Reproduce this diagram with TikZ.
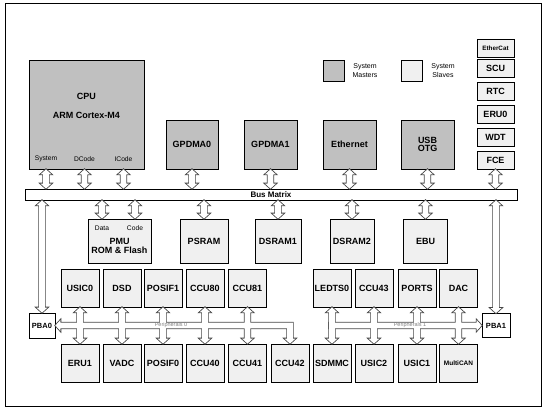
\documentclass[tikz,border=0pt]{standalone}
\usepackage{fontspec}
\setmainfont{Liberation Sans}
\usetikzlibrary{calc}
\definecolor{mastergray}{RGB}{192,192,192}
\definecolor{slavegray}{RGB}{240,240,240}
\definecolor{arrgray}{RGB}{70,70,70}
\def\arhw{5.5pt}
\def\arsw{2.8pt}
\def\arhl{5pt}
\tikzset{
  box/.style={draw=black, line width=0.8pt, inner sep=0pt, align=center,
    font=\bfseries\fontsize{9}{9.5}\selectfont},
  master/.style={box, fill=mastergray},
  slave/.style={box, fill=slavegray},
  plain/.style={box, fill=white},
  perbox/.style={slave, minimum width=38pt, minimum height=38pt},
  sidebox/.style={slave, minimum width=37pt, minimum height=18pt},
  smalltxt/.style={inner sep=0pt, font=\fontsize{6.7}{7}\selectfont},
  arrout/.style={draw=arrgray, line width=1.7pt, line join=miter},
  arrfill/.style={fill=white},
}
% double-headed vertical block arrow from #2 (top) to #3 (bottom)
\newcommand\varr[3]{%
  \path[#1] let \p1=#2, \p2=#3 in
   (\x1,\y1) -- (\x1+\arhw,\y1-\arhl) -- (\x1+\arsw,\y1-\arhl) -- (\x1+\arsw,\y2+\arhl)
   -- (\x1+\arhw,\y2+\arhl) -- (\x1,\y2) -- (\x1-\arhw,\y2+\arhl) -- (\x1-\arsw,\y2+\arhl)
   -- (\x1-\arsw,\y1-\arhl) -- (\x1-\arhw,\y1-\arhl) -- cycle;}
\newcommand\allarrows[1]{%
  \varr{#1}{(cpu.south -| sys)}{(bus.north -| sys)}
  \varr{#1}{(cpu.south -| dcode)}{(bus.north -| dcode)}
  \varr{#1}{(cpu.south -| icode)}{(bus.north -| icode)}
  \varr{#1}{(gpdma0.south)}{(bus.north -| gpdma0.south)}
  \varr{#1}{(gpdma1.south)}{(bus.north -| gpdma1.south)}
  \varr{#1}{(eth.south)}{(bus.north -| eth.south)}
  \varr{#1}{(usb.south)}{(bus.north -| usb.south)}
  \varr{#1}{(fce.south)}{(bus.north -| fce.south)}
  \varr{#1}{(bus.south -| data)}{(pmu.north -| data)}
  \varr{#1}{(bus.south -| code)}{(pmu.north -| code)}
  \varr{#1}{(bus.south -| psram.north)}{(psram.north)}
  \varr{#1}{(bus.south -| dsram1.north)}{(dsram1.north)}
  \varr{#1}{(bus.south -| dsram2.north)}{(dsram2.north)}
  \varr{#1}{(bus.south -| ebu.north)}{(ebu.north)}
  \varr{#1}{(bus.south -| pba0.north)}{(pba0.north)}
  \varr{#1}{(bus.south -| pba1.north)}{(pba1.north)}
  \varr{#1}{(usic0.south)}{(eru1.north)}
  \varr{#1}{(dsd.south)}{(vadc.north)}
  \varr{#1}{(posif1.south)}{(posif0.north)}
  \varr{#1}{(ccu80.south)}{(ccu40.north)}
  \varr{#1}{(ccu81.south)}{(ccu41.north)}
  \varr{#1}{(ledts0.south)}{(sdmmc.north)}
  \varr{#1}{(ccu43.south)}{(usic2.north)}
  \varr{#1}{(ports.south)}{(usic1.north)}
  \varr{#1}{(dac.south)}{(multican.north)}
  % Peripherals 0 bus: PBA0 <-> CCU42
  \path[#1] let \p1=(pba0.east), \p2=(ccu42.north) in
   (\x1,\y1) -- (\x1+\arhl,\y1+\arhw) -- (\x1+\arhl,\y1+\arsw) -- (\x2+\arsw,\y1+\arsw)
   -- (\x2+\arsw,\y2+\arhl) -- (\x2+\arhw,\y2+\arhl) -- (\x2,\y2) -- (\x2-\arhw,\y2+\arhl)
   -- (\x2-\arsw,\y2+\arhl) -- (\x2-\arsw,\y1-\arsw) -- (\x1+\arhl,\y1-\arsw)
   -- (\x1+\arhl,\y1-\arhw) -- cycle;
  % Peripherals 1 bus: -> PBA1
  \path[#1] let \p1=(ledts0.south |- pba1.west), \p2=(pba1.west) in
   (\x1-\arsw,\y1+\arsw) -- (\x2-\arhl,\y1+\arsw) -- (\x2-\arhl,\y1+\arhw) -- (\x2,\y1)
   -- (\x2-\arhl,\y1-\arhw) -- (\x2-\arhl,\y1-\arsw) -- (\x1-\arsw,\y1-\arsw) -- cycle;
}
\begin{document}
\begin{tikzpicture}[x=1pt, y=-1pt]
\useasboundingbox (0,0) rectangle (550,411);
\node[draw=black, line width=0.9pt, minimum width=536pt, minimum height=403pt, inner sep=0pt] (frame) at (273,204.5) {};

% CPU and masters
\node[master, minimum width=115pt, minimum height=109pt] (cpu) at (86.5,114.5) {};
\node[inner sep=0pt, font=\bfseries\fontsize{9}{9.5}\selectfont] (cputxt) at (86.5,96) {CPU};
\node[inner sep=0pt, font=\bfseries\fontsize{9}{9.5}\selectfont] (armtxt) at (86.5,115) {ARM Cortex-M4};
\node[smalltxt] (sys) at (46,159) {System};
\node[smalltxt] (dcode) at (84.5,159) {DCode};
\node[smalltxt] (icode) at (123.5,159) {ICode};

\node[master, minimum width=52pt, minimum height=49pt] (gpdma0) at (192,144.5) {GPDMA0};
\node[master, minimum width=53pt, minimum height=49pt] (gpdma1) at (270.5,144.5) {GPDMA1};
\node[master, minimum width=53pt, minimum height=49pt] (eth) at (349.5,144.5) {Ethernet};
\node[master, minimum width=53pt, minimum height=49pt, font=\bfseries\fontsize{9}{8.5}\selectfont] (usb) at (427.5,144.5) {USB\\OTG};

% legend
\node[master, minimum width=21pt, minimum height=21pt] (legm) at (333.5,70.5) {};
\node[smalltxt, align=center, font=\fontsize{7}{8.5}\selectfont] (legmt) at (365,70.5) {System\\Masters};
\node[slave, minimum width=21pt, minimum height=21pt] (legs) at (411.5,70.5) {};
\node[smalltxt, align=center, font=\fontsize{7}{8.5}\selectfont] (legst) at (443,70.5) {System\\Slaves};

% side column
\node[sidebox, font=\bfseries\fontsize{6.3}{7}\selectfont] (ethercat) at (495.5,48) {EtherCat};
\node[sidebox] (scu) at (495.5,68.5) {SCU};
\node[sidebox] (rtc) at (495.5,91.5) {RTC};
\node[sidebox] (eru0) at (495.5,114) {ERU0};
\node[sidebox] (wdt) at (495.5,137) {WDT};
\node[sidebox] (fce) at (495.5,160) {FCE};

% bus matrix
\node[plain, minimum width=492pt, minimum height=11pt] (bus) at (271,194.5) {};
\node[inner sep=0pt, font=\bfseries\fontsize{8}{8}\selectfont] (bustxt) at (271,194.5) {Bus Matrix};

% slaves on bus
\node[slave, minimum width=63pt, minimum height=44pt] (pmu) at (119.5,241) {};
\node[smalltxt] (data) at (102,228) {Data};
\node[smalltxt] (code) at (135,228) {Code};
\node[inner sep=0pt, align=center, font=\bfseries\fontsize{9}{9.5}\selectfont] (pmutxt) at (119.5,246) {PMU\\ROM \& Flash};
\node[slave, minimum width=48pt, minimum height=44pt] (psram) at (204,241) {PSRAM};
\node[slave, minimum width=46pt, minimum height=44pt] (dsram1) at (278,241) {DSRAM1};
\node[slave, minimum width=44pt, minimum height=44pt] (dsram2) at (352,241) {DSRAM2};
\node[slave, minimum width=44pt, minimum height=44pt] (ebu) at (425.5,241) {EBU};

\node[plain, minimum width=26pt, minimum height=25pt, font=\bfseries\fontsize{7.5}{8}\selectfont] (pba0) at (42,325.5) {PBA0};
\node[plain, minimum width=28pt, minimum height=24pt, font=\bfseries\fontsize{7.5}{8}\selectfont] (pba1) at (496,325.5) {PBA1};

% peripherals top row
\node[perbox] (usic0) at (80,288) {USIC0};
\node[perbox] (dsd) at (122,288) {DSD};
\node[perbox] (posif1) at (163,288) {POSIF1};
\node[perbox] (ccu80) at (205,288) {CCU80};
\node[perbox] (ccu81) at (247.5,288) {CCU81};
\node[perbox] (ledts0) at (332,288) {LEDTS0};
\node[perbox] (ccu43) at (374,288) {CCU43};
\node[perbox] (ports) at (417,288) {PORTS};
\node[perbox] (dac) at (458.5,288) {DAC};
% bottom row
\node[perbox] (eru1) at (80,363) {ERU1};
\node[perbox] (vadc) at (122,363) {VADC};
\node[perbox] (posif0) at (163,363) {POSIF0};
\node[perbox] (ccu40) at (205,363) {CCU40};
\node[perbox] (ccu41) at (247.5,363) {CCU41};
\node[perbox] (ccu42) at (290,363) {CCU42};
\node[perbox] (sdmmc) at (332,363) {SDMMC};
\node[perbox] (usic2) at (374,363) {USIC2};
\node[perbox] (usic1) at (417,363) {USIC1};
\node[perbox, font=\bfseries\fontsize{6.5}{7}\selectfont] (multican) at (458.5,363) {MultiCAN};

% block arrows: outlines first, then white interiors so crossings merge
\allarrows{arrout}
\allarrows{arrfill}

\node[inner sep=0pt, text=gray, font=\fontsize{5.5}{6}\selectfont] (p0txt) at (171,325.5) {Peripherals 0};
\node[inner sep=0pt, text=gray, font=\fontsize{5.5}{6}\selectfont] (p1txt) at (410,325.5) {Peripherals 1};
\end{tikzpicture}
\end{document}
